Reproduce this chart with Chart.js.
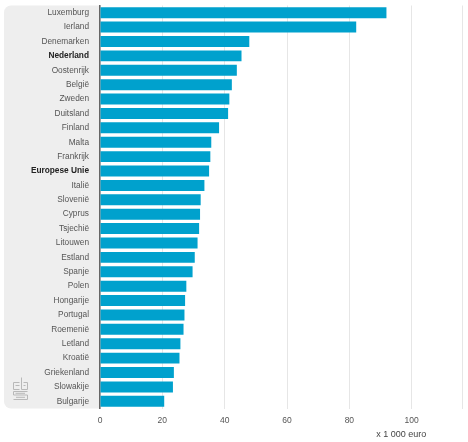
<!DOCTYPE html>
<html>
<head>
<meta charset="utf-8">
<style>
html,body{margin:0;padding:0;background:#fff}
#wrap{position:relative;width:468px;height:442px;overflow:hidden}
canvas{position:absolute;left:0;top:0}
svg{position:absolute;left:13px;top:377px}
</style>
<script src="https://cdn.jsdelivr.net/npm/chart.js@4"></script>
</head>
<body>
<div id="wrap">
<canvas id="c" width="468" height="442"></canvas>
<svg width="15" height="23" viewBox="0 0 15 23" fill="none" stroke="#b8b8b8" stroke-width="1">
<path d="M6.5 5.5H.5V12.5H6.5M2.5 8.5H6.5"/>
<path d="M8.5 .5V12.5H14.5V5.5H10.5M10.5 8.5H12.5"/>
<path d="M14.5 14.5H.5V18H14.5V22.5H.5M2.5 16.3H12M3 20.3H12"/>
</svg>
</div>
<script>
const categories = ["Luxemburg","Ierland","Denemarken","Nederland","Oostenrijk","België","Zweden","Duitsland","Finland","Malta","Frankrijk","Europese Unie","Italië","Slovenië","Cyprus","Tsjechië","Litouwen","Estland","Spanje","Polen","Hongarije","Portugal","Roemenië","Letland","Kroatië","Griekenland","Slowakije","Bulgarije"];
const values = [91.9,82.2,47.9,45.4,43.9,42.3,41.5,41.1,38.2,35.7,35.4,35.0,33.5,32.3,32.1,31.8,31.3,30.4,29.7,27.7,27.3,27.1,26.8,25.8,25.5,23.7,23.4,20.6];
const boldLabels = ["Nederland","Europese Unie"];
const axisMax = 116.3;
const tickStep = 20;
const unitLabel = "x 1 000 euro";
const FONT = "'Liberation Sans', Arial, sans-serif";

const panel = {
  id:'panel',
  beforeDraw(chart){
    const {ctx,chartArea:a} = chart;
    ctx.save();
    ctx.fillStyle = '#eeeeee';
    ctx.beginPath();
    ctx.roundRect(4,a.top,a.left-4,a.bottom-a.top,[7,0,0,7]);
    ctx.fill();
    ctx.restore();
  },
  afterDraw(chart){
    const {ctx,scales:{x}} = chart;
    ctx.save();
    ctx.fillStyle = '#444';
    ctx.font = "9px "+FONT;
    ctx.textAlign = 'right';
    ctx.textBaseline = 'middle';
    ctx.fillText(unitLabel, x.getPixelForValue(100)+14.5, 435);
    ctx.restore();
  }
};

new Chart(document.getElementById('c'),{
  type:'bar',
  data:{labels:categories,datasets:[{data:values,backgroundColor:'#00a1cd',borderWidth:0,barPercentage:0.76,categoryPercentage:1}]},
  plugins:[panel],
  options:{
    indexAxis:'y',
    responsive:false,
    animation:false,
    layout:{padding:{top:5.5,right:5.5,left:0,bottom:0}},
    plugins:{legend:{display:false},tooltip:{enabled:false}},
    scales:{
      x:{
        min:0,max:axisMax,
        afterFit(s){s.height=33.5;s.paddingLeft=0;s.paddingRight=0},
        ticks:{stepSize:tickStep,autoSkip:false,maxRotation:0,padding:7,color:'#555',font:{family:FONT,size:8.5},
          callback:v=>v%tickStep===0?String(v):''},
        grid:{color:'#e6e6e6',lineWidth:1,drawTicks:false},
        border:{display:false}
      },
      y:{
        afterFit(s){s.width=100;s.paddingTop=0;s.paddingBottom=0},
        ticks:{padding:11,autoSkip:false,color:ctx=>boldLabels.includes(categories[ctx.index])?'#222':'#555',
          font:ctx=>({family:FONT,size:8.3,weight:boldLabels.includes(categories[ctx.index])?'bold':'normal'})},
        grid:{display:false,drawTicks:false},
        border:{display:true,color:'#666',width:1.5}
      }
    }
  }
});
</script>
</body>
</html>
